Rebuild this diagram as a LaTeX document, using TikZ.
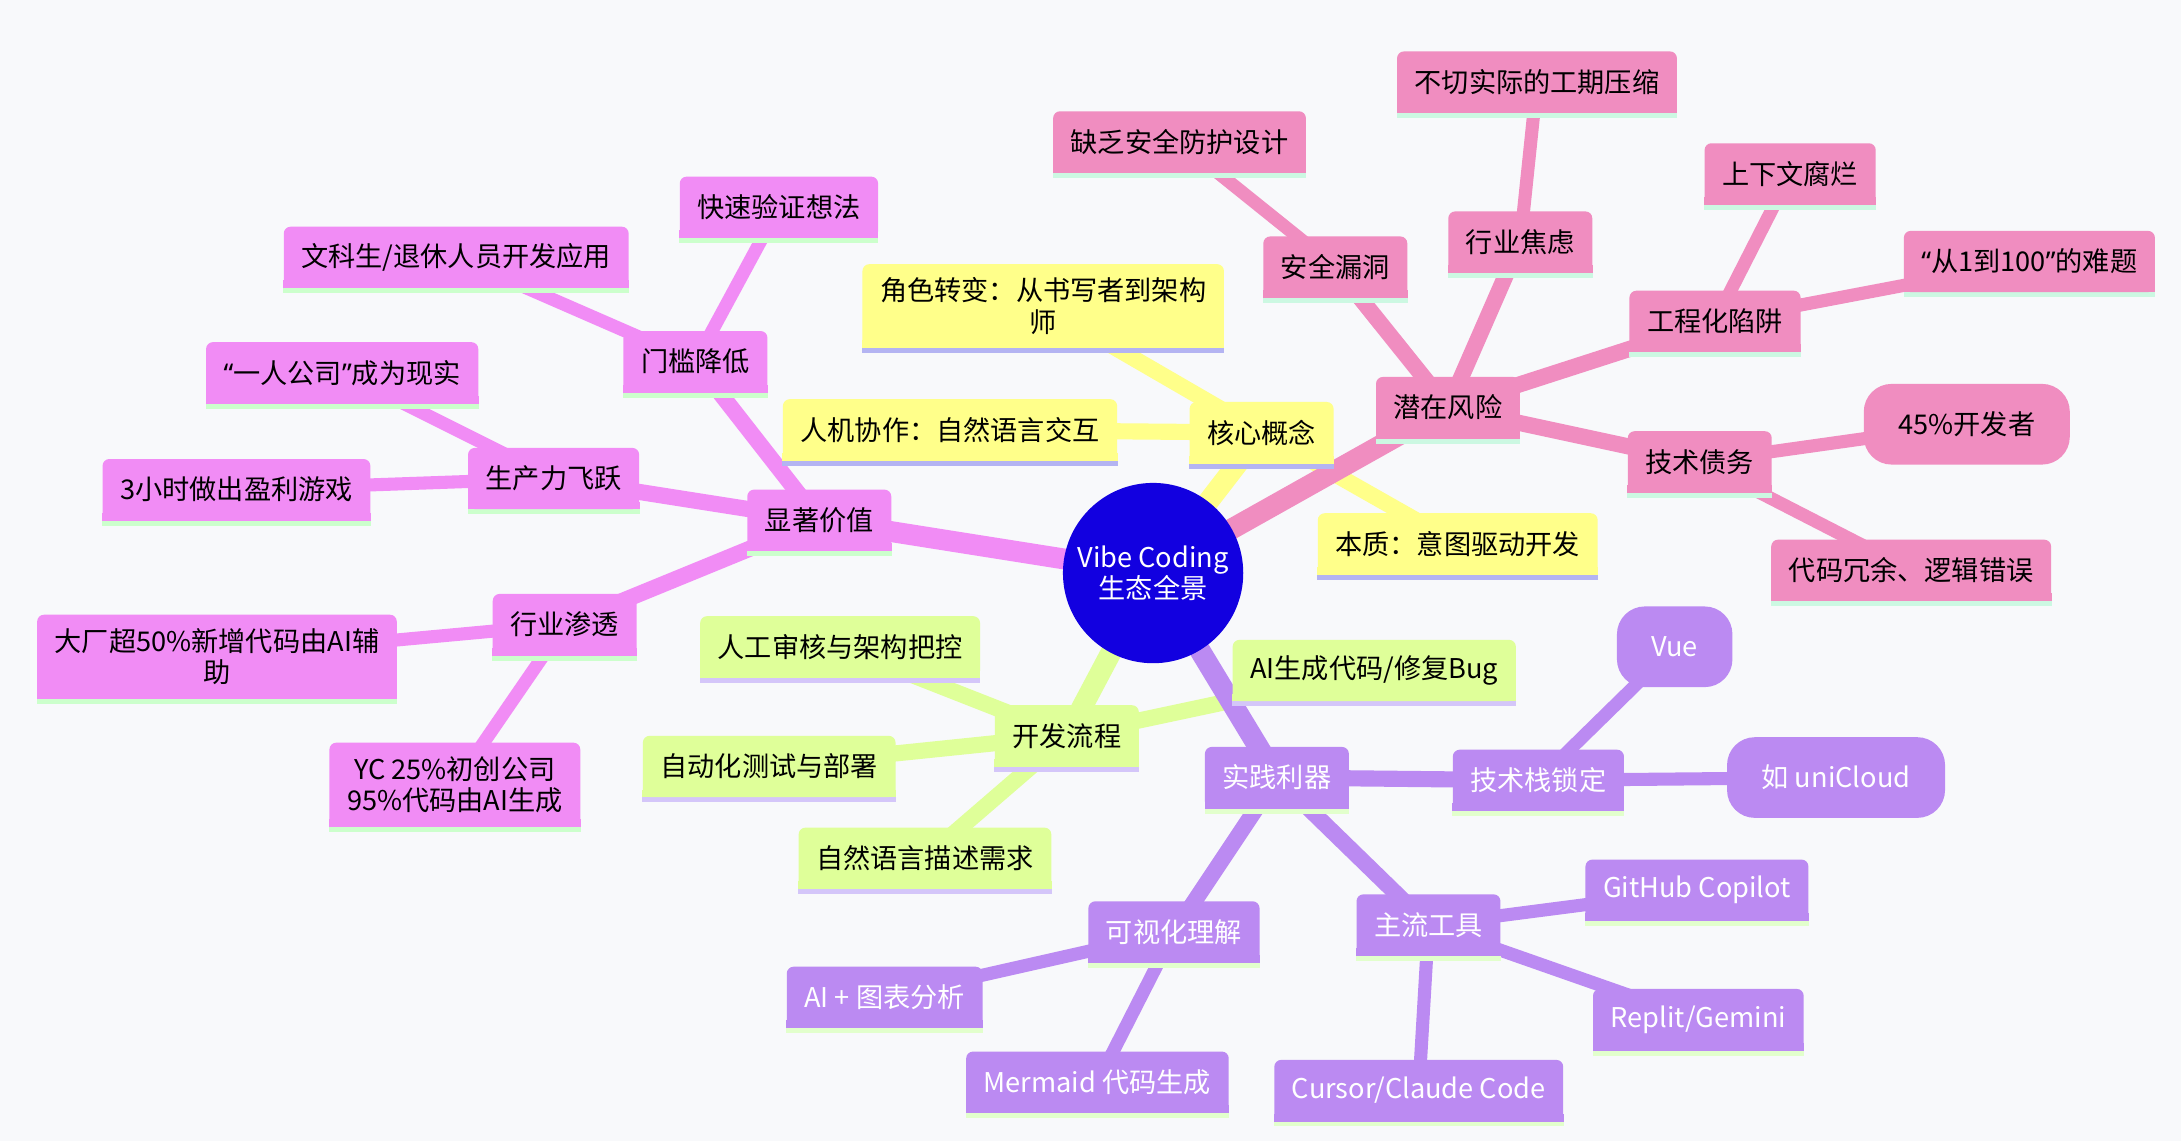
\documentclass[tikz,border=0pt]{standalone}
\usepackage{fontspec}
\setmainfont{Noto Sans CJK SC}
\newfontfamily\quotefont{Noto Sans}
\usetikzlibrary{backgrounds}
\definecolor{canvas}{HTML}{F8F9FB}
\definecolor{rootC}{HTML}{1200E0}
\definecolor{yelC}{HTML}{FFFF8A}
\definecolor{yelB}{HTML}{B4B4F2}
\definecolor{pnkC}{HTML}{F08DC0}
\definecolor{pnkB}{HTML}{CCF8E2}
\definecolor{magC}{HTML}{F18CF5}
\definecolor{magB}{HTML}{CCFFCC}
\definecolor{grnC}{HTML}{DFFF99}
\definecolor{grnB}{HTML}{D4C6F9}
\definecolor{prpC}{HTML}{BB8AF2}
\definecolor{prpB}{HTML}{E2FFCC}
\newcommand\mmfont{\fontsize{13.9pt}{15.9pt}\selectfont}
\newcommand\openq{{\quotefont “}}
\newcommand\closeq{{\quotefont ”}}
\tikzset{
  card/.style 2 args={fill=#1, rounded corners=3.5pt, inner xsep=9pt,
                      inner ysep=7pt, minimum height=1.1cm, align=center,
                      font=\mmfont,
                      append after command={\pgfextra{
                        \fill[#1, sharp corners]
                          ([yshift=4pt]\tikzlastnode.south west)
                          rectangle (\tikzlastnode.south east);
                        \fill[#2, sharp corners]
                          (\tikzlastnode.south west)
                          rectangle ([yshift=-2.55pt]\tikzlastnode.south east);}}},
  pill/.style   ={fill=#1, rounded corners=0.5cm, inner xsep=17.7pt,
                  minimum height=1.45cm, font=\mmfont},
  Lroot/.style  ={circle, fill=rootC, text=white, minimum size=3.24cm,
                  align=center, font=\mmfont, inner sep=0pt},
  Lcore/.style  ={card={yelC}{yelB}},
  Lrisk/.style  ={card={pnkC}{pnkB}},
  Lvalue/.style ={card={magC}{magB}},
  Lflow/.style  ={card={grnC}{grnB}},
  Ltool/.style  ={card={prpC}{prpB}, text=white},
  trunk/.style  ={draw=#1, line width=0.375cm},
  limb/.style   ={draw=#1, line width=0.29cm},
  twig/.style   ={draw=#1, line width=0.235cm},
}

\begin{document}
\begin{tikzpicture}[x=0.025cm, y=-0.025cm]
\useasboundingbox (0,0) rectangle (1568,820);

% centre
\node[Lroot] (root) at (829, 412) {Vibe Coding\\生态全景};

% 核心概念
\node[Lcore] (core)    at ( 907, 311) {核心概念};
\node[Lcore] (role)    at ( 750, 220) {角色转变：从书写者到架构\\师};
\node[Lcore] (collab)  at ( 683, 309) {人机协作：自然语言交互};
\node[Lcore] (essence) at (1048, 391) {本质：意图驱动开发};

% 潜在风险
\node[Lrisk] (risk)  at (1041, 293) {潜在风险};
\node[Lrisk] (sec)   at ( 960, 192) {安全漏洞};
\node[Lrisk] (secD)  at ( 848, 102) {缺乏安全防护设计};
\node[Lrisk] (anx)   at (1093, 174) {行业焦虑};
\node[Lrisk] (anxD)  at (1105,  59) {不切实际的工期压缩};
\node[Lrisk] (eng)   at (1233, 231) {工程化陷阱};
\node[Lrisk] (engA)  at (1287, 125) {上下文腐烂};
\node[Lrisk] (engB)  at (1459, 188) {\openq 从1到100\closeq 的难题};
\node[Lrisk] (debt)  at (1222, 332) {技术债务};
\node[pill=pnkC] (debtA) at (1414, 305) {45\%开发者};
\node[Lrisk] (debtB) at (1374, 410) {代码冗余、逻辑错误};

% 显著价值
\node[Lvalue] (value) at (589, 374) {显著价值};
\node[Lvalue] (bar)   at (500, 260) {门槛降低};
\node[Lvalue] (barA)  at (560, 149) {快速验证想法};
\node[Lvalue] (barB)  at (328, 185) {文科生/退休人员开发应用};
\node[Lvalue] (prod)  at (398, 344) {生产力飞跃};
\node[Lvalue] (prodA) at (246, 268) {\openq 一人公司\closeq 成为现实};
\node[Lvalue] (prodB) at (170, 352) {3小时做出盈利游戏};
\node[Lvalue] (ind)   at (406, 449) {行业渗透};
\node[Lvalue] (indA)  at (156, 472) {大厂超50\%新增代码由AI辅\\助};
\node[Lvalue] (indB)  at (327, 564) {YC 25\%初创公司\\95\%代码由AI生成};

% 开发流程
\node[Lflow] (flow)  at (767, 529) {开发流程};
\node[Lflow] (flowA) at (604, 465) {人工审核与架构把控};
\node[Lflow] (flowB) at (553, 551) {自动化测试与部署};
\node[Lflow] (flowC) at (665, 617) {自然语言描述需求};
\node[Lflow] (flowD) at (988, 482) {AI生成代码/修复Bug};

% 实践利器
\node[Ltool] (tool)  at ( 918, 559) {实践利器};
\node[Ltool] (stack) at (1106, 561) {技术栈锁定};
\node[pill=prpC, text=white] (vue) at (1204, 465) {Vue};
\node[pill=prpC, text=white] (uni) at (1320, 559) {如 uniCloud};
\node[Ltool] (main)  at (1027, 665) {主流工具};
\node[Ltool] (mainA) at (1220, 640) {GitHub Copilot};
\node[Ltool] (mainB) at (1221, 733) {Replit/Gemini};
\node[Ltool] (mainC) at (1020, 784) {Cursor/Claude Code};
\node[Ltool] (vis)   at ( 844, 670) {可视化理解};
\node[Ltool] (visA)  at ( 636, 717) {AI + 图表分析};
\node[Ltool] (visB)  at ( 789, 778) {Mermaid 代码生成};

% connectors, behind the cards
\begin{scope}[on background layer]
\fill[canvas] (0,0) rectangle (1568,820);

\draw[trunk=yelC] (root.center) -- (core.center);
\foreach \leaf in {role, collab, essence}
  \draw[limb=yelC] (core.center) -- (\leaf.center);

\draw[trunk=grnC] (root.center) -- (flow.center);
\foreach \leaf in {flowA, flowB, flowC, flowD}
  \draw[limb=grnC] (flow.center) -- (\leaf.center);

\draw[trunk=magC] (root.center) -- (value.center);
\foreach \mid in {bar, prod, ind}
  \draw[limb=magC] (value.center) -- (\mid.center);
\foreach \a/\b in {bar/barA, bar/barB, prod/prodA, prod/prodB, ind/indA, ind/indB}
  \draw[twig=magC] (\a.center) -- (\b.center);

\draw[trunk=pnkC] (root.center) -- (risk.center);
\foreach \mid in {sec, anx, eng, debt}
  \draw[limb=pnkC] (risk.center) -- (\mid.center);
\foreach \a/\b in {sec/secD, anx/anxD, eng/engA, eng/engB, debt/debtA, debt/debtB}
  \draw[twig=pnkC] (\a.center) -- (\b.center);

\draw[trunk=prpC] (root.center) -- (tool.center);
\foreach \mid in {stack, main, vis}
  \draw[limb=prpC] (tool.center) -- (\mid.center);
\foreach \a/\b in {stack/vue, stack/uni, main/mainA, main/mainB, main/mainC,
                   vis/visA, vis/visB}
  \draw[twig=prpC] (\a.center) -- (\b.center);
\end{scope}

\end{tikzpicture}
\end{document}
